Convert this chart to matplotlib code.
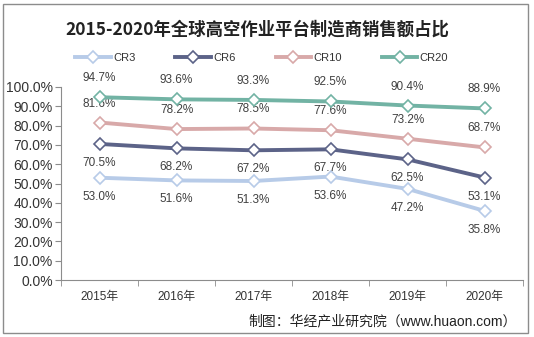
import matplotlib.pyplot as plt
from matplotlib.patches import Rectangle

plt.rcParams['font.family'] = ['Liberation Sans', 'Noto Sans CJK SC', 'DejaVu Sans']

years = ['2015年', '2016年', '2017年', '2018年', '2019年', '2020年']
names = ['CR3', 'CR6', 'CR10', 'CR20']
cr3 = [53.0, 51.6, 51.3, 53.6, 47.2, 35.8]
cr6 = [70.5, 68.2, 67.2, 67.7, 62.5, 53.1]
cr10 = [81.6, 78.2, 78.5, 77.6, 73.2, 68.7]
cr20 = [94.7, 93.6, 93.3, 92.5, 90.4, 88.9]

series = [cr3, cr6, cr10, cr20]
colors = ['#b7cbe8', '#5c6388', '#d8a9a9', '#72b3a4']
offsets = [-19, -19, 19, 19]  # label offset in px (below / above)

fig = plt.figure(figsize=(5.34, 3.37), dpi=100)
fig.patches.append(Rectangle((0.006, 0.012), 0.982, 0.976, transform=fig.transFigure,
                             fill=False, edgecolor='#8c8c8c', lw=1))
ax = fig.add_axes([61/534, 1-280/337, (523-61)/534, (280-87)/337])

x = list(range(len(years)))
for vals, name, c, off in zip(series, names, colors, offsets):
    ax.plot(x, vals, color=c, lw=2.8, marker='D', ms=6.5, mfc='white', mec=c, mew=1.2,
            label=name, zorder=3)
    for xi, v in zip(x, vals):
        ax.annotate(f'{v:.1f}%', (xi, v), xytext=(0, off), textcoords='offset pixels',
                    ha='center', va='center', fontsize=8.5, color='#404040')

ax.set_xlim(-0.5, 5.5)
ax.set_ylim(0, 100)
ax.set_yticks(range(0, 101, 10))
ax.set_yticklabels([f'{v:.1f}%' for v in range(0, 101, 10)], fontsize=10, color='#333333')
ax.set_xticks(x)
ax.set_xticklabels(years, fontsize=8.5, color='#333333')
ax.set_xticks([i - 0.5 for i in range(7)], minor=True)
ax.tick_params(axis='x', which='major', length=0, pad=8)
ax.tick_params(axis='x', which='minor', length=4, color='#8c8c8c')
ax.tick_params(axis='y', length=4, color='#8c8c8c', pad=2)
for s in ['top', 'right']:
    ax.spines[s].set_visible(False)
ax.spines['left'].set_color('#8c8c8c')
ax.spines['bottom'].set_color('#8c8c8c')

fig.text(0.482, 1-30/337, '2015-2020年全球高空作业平台制造商销售额占比', ha='center', va='center',
         fontsize=12.5, fontweight='bold', color='#222222', family=['Noto Sans CJK SC'])

leg = fig.legend(loc='center', bbox_to_anchor=(0.49, 1-58/337), ncol=4, frameon=False,
                 fontsize=8, handlelength=3.2, columnspacing=3.6, handletextpad=0.2)
for t in leg.get_texts():
    t.set_color('#333333')

fig.text(0.968, 1-321/337, '制图：华经产业研究院（www.huaon.com）', ha='right', va='center',
         fontsize=10, color='#222222')

fig.savefig('out.png', dpi=100)
